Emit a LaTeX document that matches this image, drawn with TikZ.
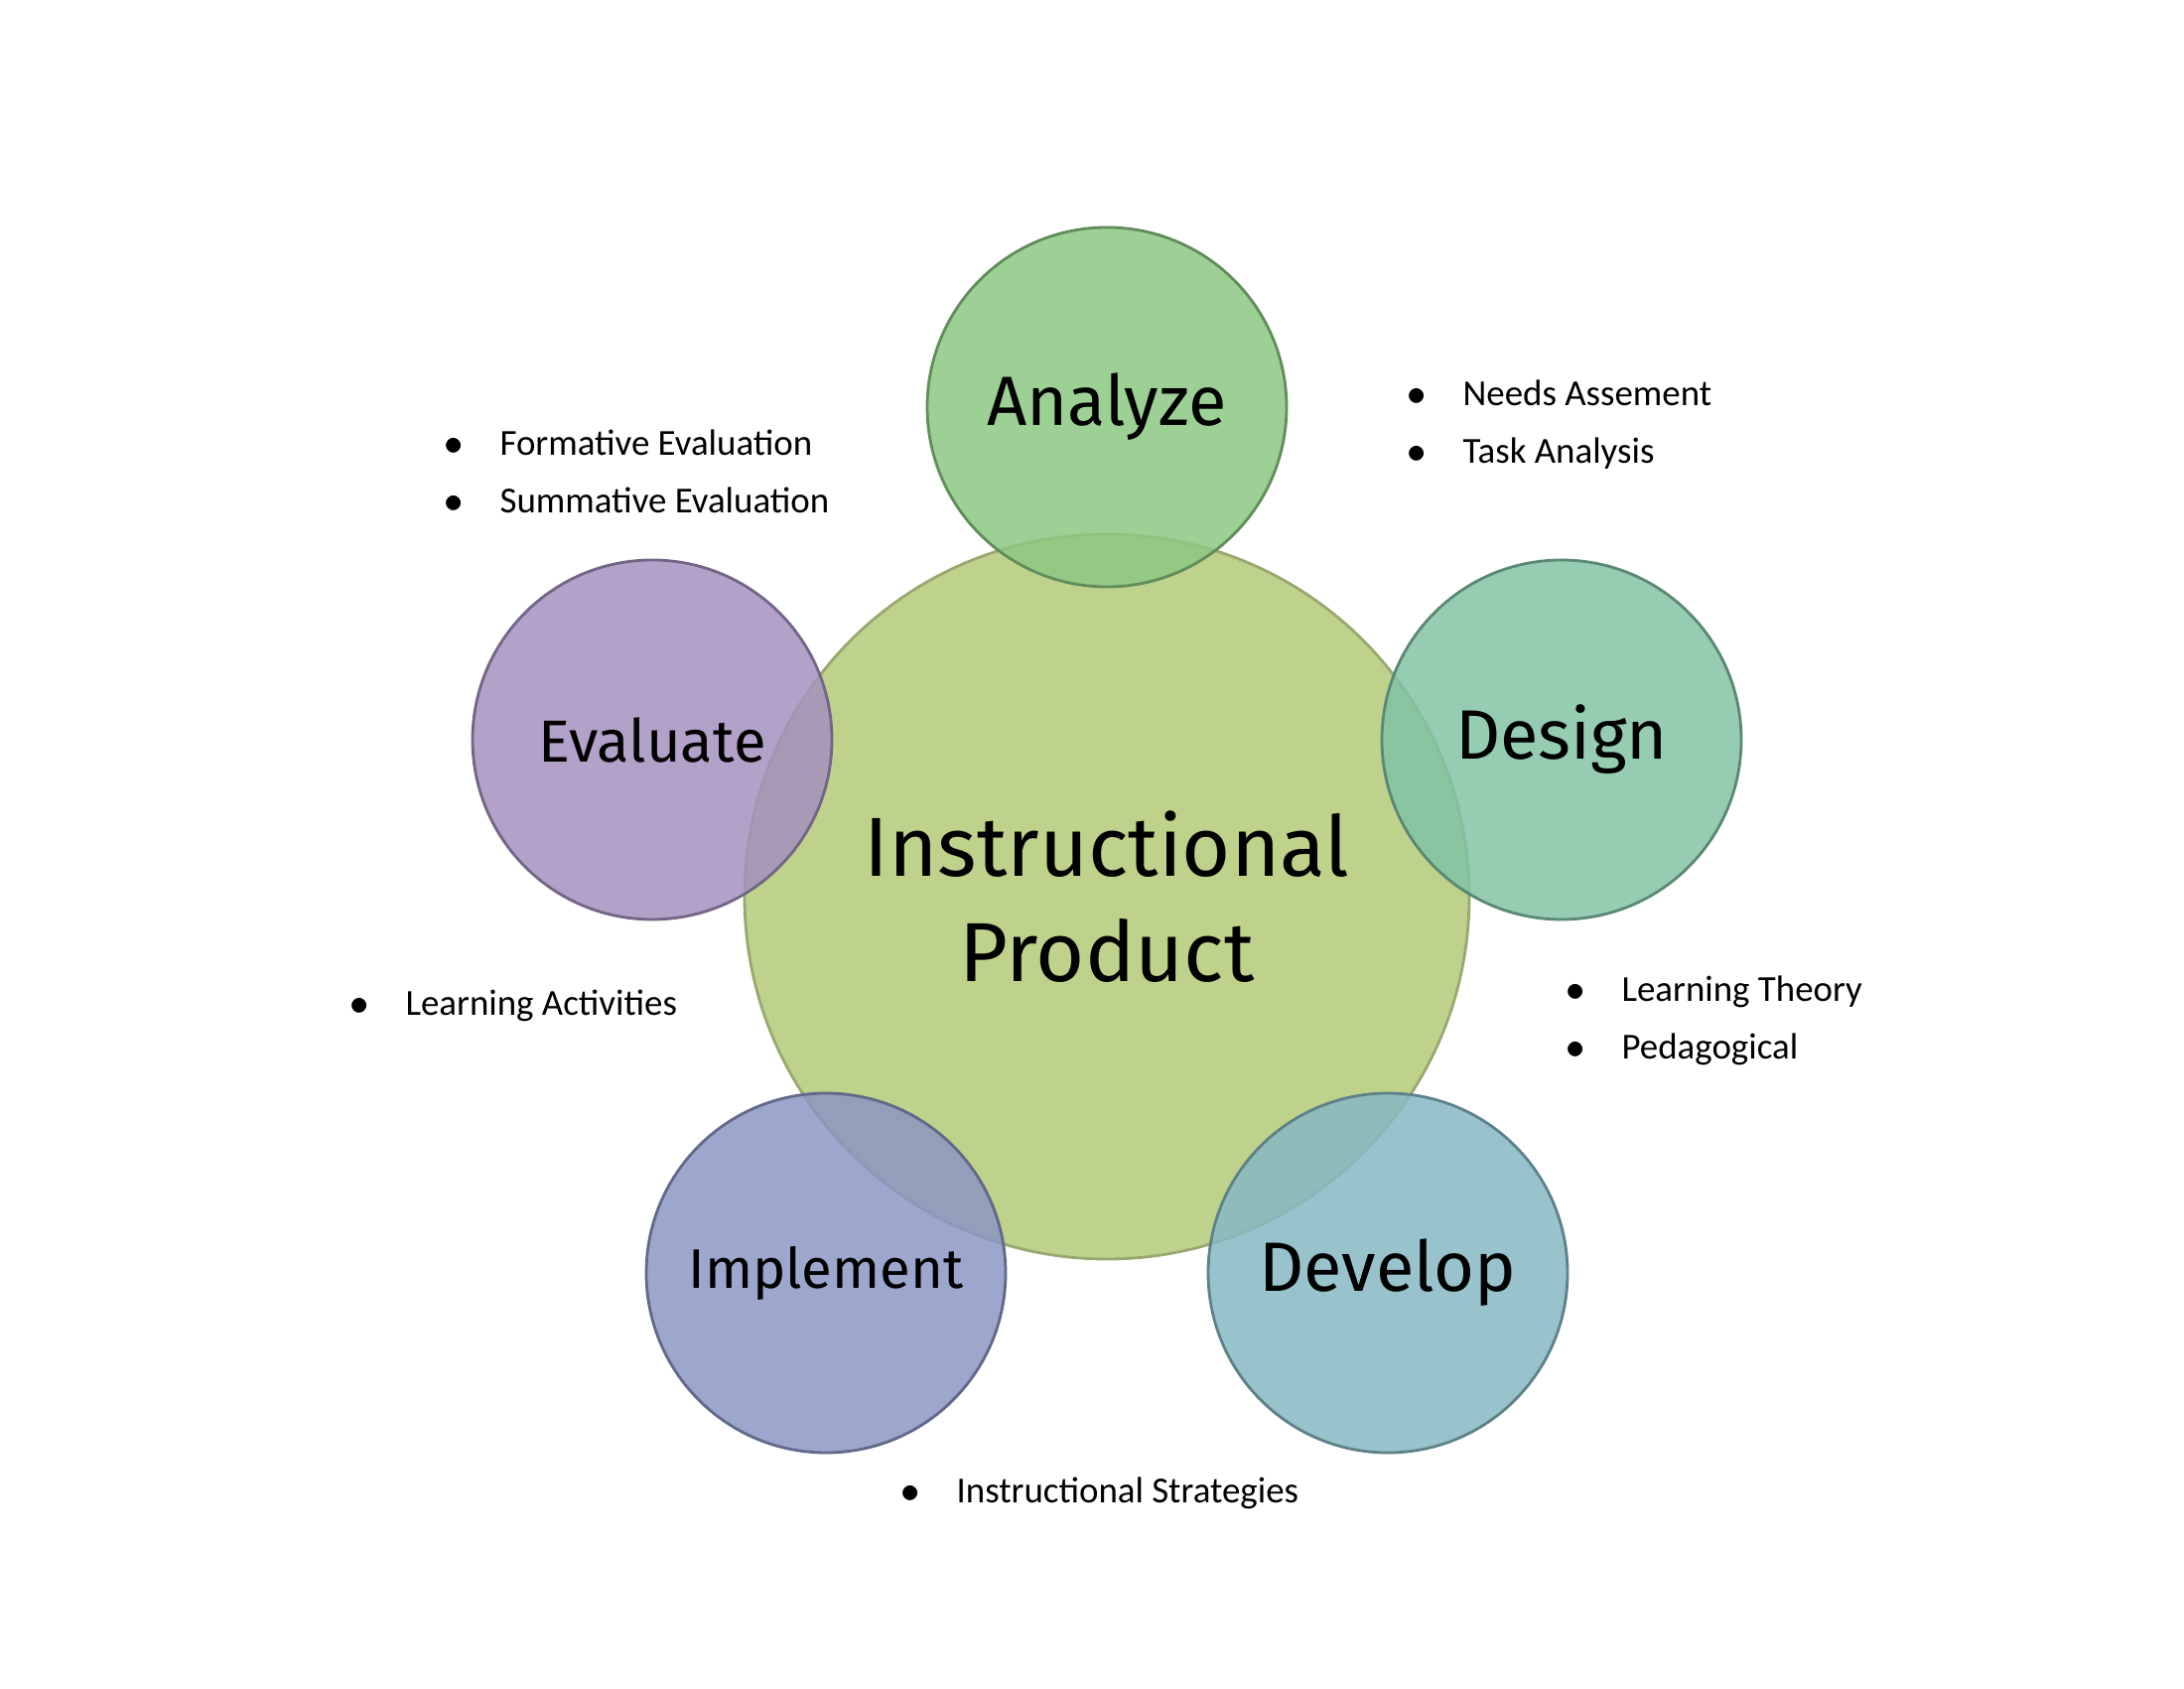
\documentclass[tikz,border=0pt]{standalone}
\usepackage{fontspec}
\setmainfont{Carlito}
\newfontfamily\labelfont{Fira Sans}
\definecolor{hubgreen}{RGB}{190,210,140}
\definecolor{analyzecol}{RGB}{140,200,130}
\definecolor{designcol}{RGB}{130,195,165}
\definecolor{developcol}{RGB}{135,185,195}
\definecolor{implementcol}{RGB}{140,150,195}
\definecolor{evaluatecol}{RGB}{165,145,190}
\tikzset{
  phase/.style={circle, draw=#1!70!black, line width=0.8pt, fill=#1, fill opacity=0.85,
    text opacity=1, minimum size=3.62cm, inner sep=0pt, font=\labelfont\fontsize{20}{22}\selectfont},
  hub/.style={circle, draw=hubgreen!80!black, line width=0.8pt, fill=hubgreen,
    minimum size=7.3cm, inner sep=0pt, align=center, font=\labelfont\fontsize{24}{30}\selectfont},
  notes/.style={anchor=north west, align=left, font=\fontsize{10.5}{16.5}\selectfont}
}
\begin{document}
\begin{tikzpicture}
    \useasboundingbox (0,0) rectangle (22,17);
    % Central hub
    \node[hub] (product) at (11.15,7.97) {Instructional\\Product};

    % Phases around the hub
    \node[phase=analyzecol] (analyze) at (11.15,12.9) {Analyze};
    \node[phase=designcol] (design) at (15.73,9.55) {Design};
    \node[phase=developcol] (develop) at (13.98,4.18) {Develop};
    \node[phase=implementcol, font=\labelfont\fontsize{16}{18}\selectfont] (implement) at (8.32,4.18) {Implement};
    \node[phase=evaluatecol, font=\labelfont\fontsize{17}{19}\selectfont] (evaluate) at (6.57,9.55) {Evaluate};

    % Bullet notes
    \node[notes] (analyzenotes) at (14.05,13.3) {$\bullet$\quad Needs Assement\\$\bullet$\quad Task Analysis};
    \node[notes] (evaluatenotes) at (4.35,12.8) {$\bullet$\quad Formative Evaluation\\$\bullet$\quad Summative Evaluation};
    \node[notes] (implementnotes) at (3.4,7.15) {$\bullet$\quad Learning Activities};
    \node[notes] (designnotes) at (15.65,7.3) {$\bullet$\quad Learning Theory\\$\bullet$\quad Pedagogical};
    \node[notes] (developnotes) at (8.95,2.25) {$\bullet$\quad Instructional Strategies};
\end{tikzpicture}
\end{document}
